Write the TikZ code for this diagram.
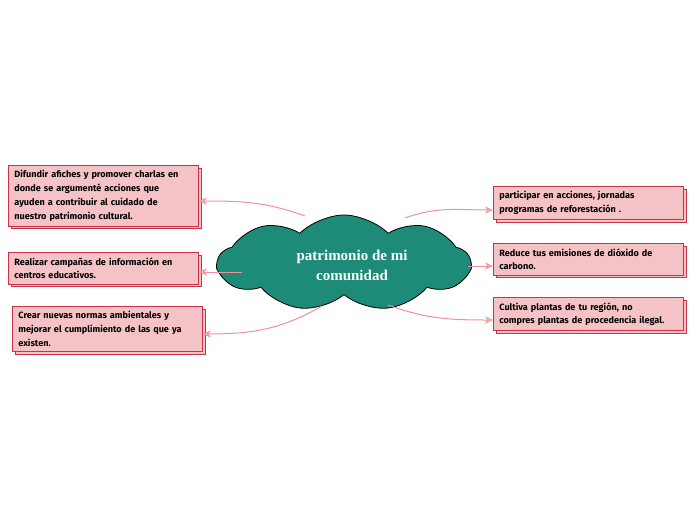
\documentclass[tikz,border=0pt]{standalone}
\usepackage{fontspec}
\setmainfont{Fira Sans}
\newfontfamily\cloudfont{Liberation Serif}
\usetikzlibrary{shapes.symbols,arrows.meta,shadows}
\definecolor{boxfill}{HTML}{F5C3C6}
\definecolor{boxline}{HTML}{C8334A}
\definecolor{link}{HTML}{F0909C}
\definecolor{teal}{HTML}{1E8A78}
\tikzset{
 topic/.style={draw=boxline,fill=boxfill,line width=0.8pt,align=left,anchor=north west,
   font=\fontsize{9.1}{13.8}\selectfont\bfseries,inner xsep=6pt,inner ysep=5pt,text width=#1,
   copy shadow={shadow xshift=2.5pt,shadow yshift=-2.5pt,fill=boxfill,draw=boxline}},
 conn/.style={draw=link,line width=1pt,-{Stealth[length=8pt,width=7pt,open]}}
}
\begin{document}
\begin{tikzpicture}[x=1pt,y=-1pt]
\useasboundingbox (0,0) rectangle (696,520);
\node[cloud,cloud puffs=9,cloud puff arc=90,aspect=2.7,draw=black,line width=0.8pt,fill=teal,minimum width=252pt,minimum height=96pt,inner sep=0pt] (c) at (344,263) {};
\node[text=white,align=center,font=\cloudfont\fontsize{15}{20}\selectfont\bfseries] at (352,265) {patrimonio de mi\\comunidad};
\node[topic=178pt] (l1) at (8,165) {Difundir afiches y promover charlas en\\donde se argumenté acciones que\\ayuden a contribuir al cuidado de\\nuestro patrimonio cultural.};
\node[topic=178pt] (l2) at (8,252) {Realizar campañas de información en\\centros educativos.};
\node[topic=178pt] (l3) at (12,306) {Crear nuevas normas ambientales y\\mejorar el cumplimiento de las que ya\\existen.};
\node[topic=178pt] (r1) at (493,186) {participar en acciones, jornadas\\programas de reforestación .};
\node[topic=178pt] (r2) at (493,243) {Reduce tus emisiones de dióxido de\\carbono.};
\node[topic=178pt] (r3) at (493,297) {Cultiva plantas de tu región, no\\compres plantas de procedencia ilegal.};
\draw[conn] (305,216) to[out=160,in=0] (l1.east|-0,201);
\draw[conn] (242,272) -- (l2.east|-0,272);
\draw[conn] (322,306) to[out=210,in=0] (l3.east|-0,334);
\draw[conn] (405,218) to[out=20,in=180] (r1.west|-0,210);
\draw[conn] (468,266) -- (r2.west|-0,266);
\draw[conn] (388,305) to[out=-20,in=180] (r3.west|-0,320);
\end{tikzpicture}
\end{document}
